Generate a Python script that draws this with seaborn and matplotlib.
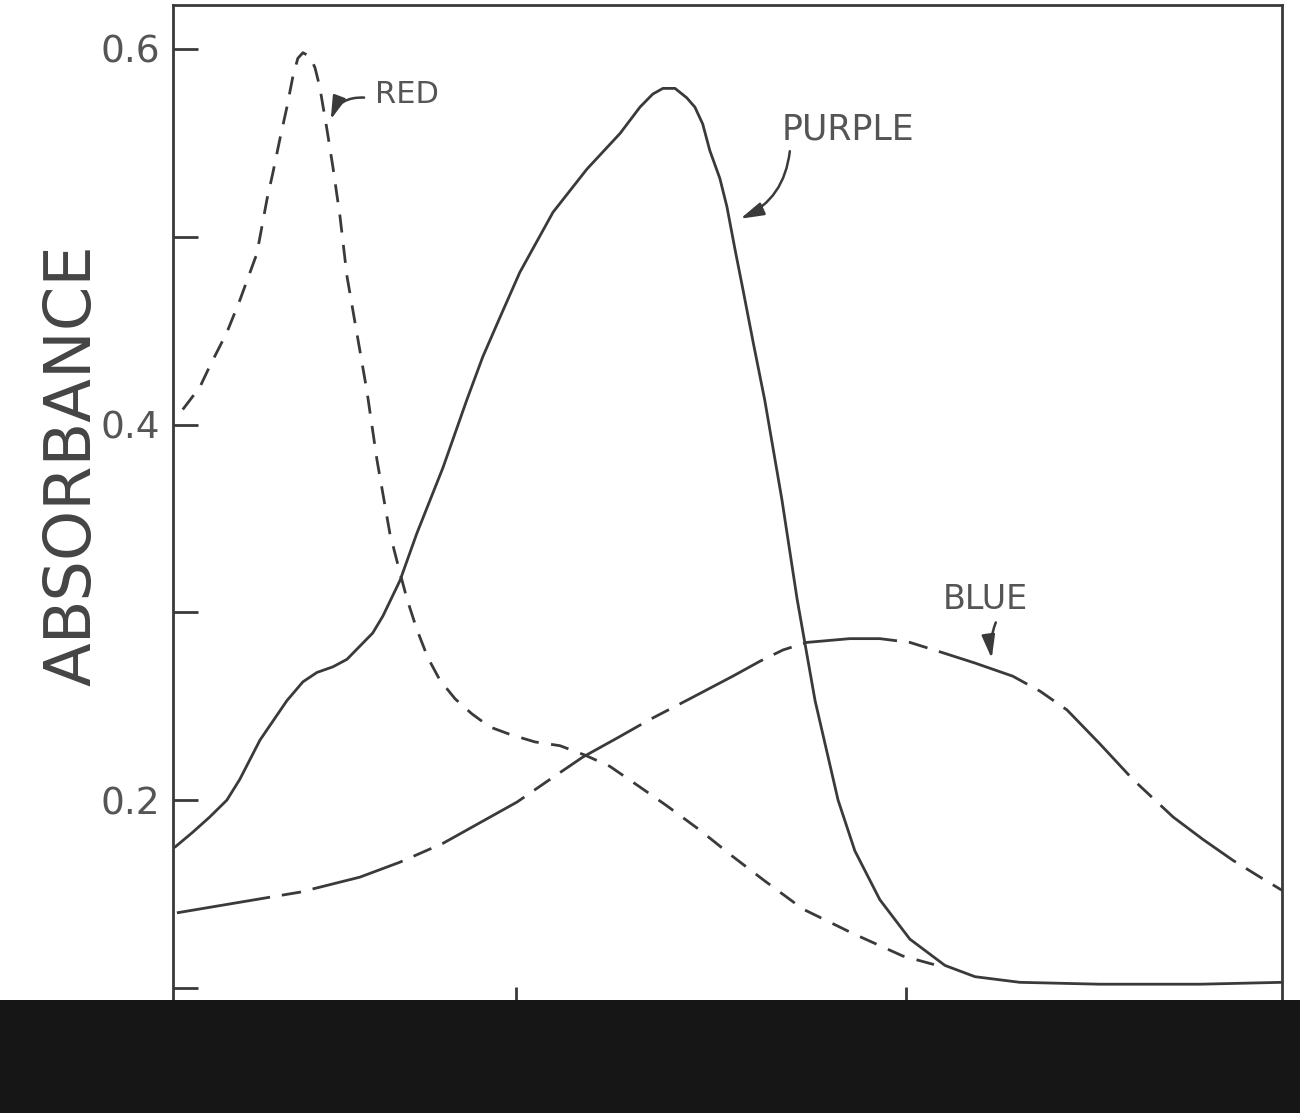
import matplotlib
matplotlib.use("Agg")
import matplotlib.pyplot as plt
import seaborn as sns
import pandas as pd
from matplotlib.patches import Rectangle

# absorbance spectra (wavelength axis unlabeled, ticks at 500/600)
red_nm = [414.6, 419.0, 421.5, 425.9, 429.2, 433.6, 436.2, 437.7, 439.5, 441.3, 442.8,
          444.1, 445.4, 447.2, 448.5, 449.7, 451.5, 453.1, 454.9, 456.7, 458.2, 461.8,
          464.4, 467.7, 470.3, 472.1, 474.6, 477.4, 480.5, 484.4, 488.7, 493.3, 498.5,
          504.9, 511.3, 517.7, 524.1, 531.8, 538.7, 547.2, 555.6, 563.8, 573.6, 586.4,
          599.2, 608.0]
red_abs = [0.408, 0.420, 0.431, 0.449, 0.466, 0.491, 0.520, 0.534, 0.552, 0.569, 0.585,
           0.595, 0.598, 0.596, 0.590, 0.580, 0.558, 0.537, 0.511, 0.479, 0.461, 0.418,
           0.381, 0.342, 0.321, 0.307, 0.291, 0.276, 0.264, 0.254, 0.246, 0.239, 0.235,
           0.231, 0.229, 0.224, 0.218, 0.207, 0.197, 0.184, 0.170, 0.157, 0.142, 0.129,
           0.117, 0.112]

purple_nm = [412.6, 417.2, 421.5, 425.9, 429.2, 434.4, 441.3, 445.4, 449.0, 453.1, 456.7,
             460.0, 463.3, 465.9, 470.3, 474.6, 481.3, 487.4, 491.5, 495.9, 501.0, 509.5,
             518.2, 526.7, 531.8, 535.1, 537.7, 540.8, 543.8, 545.9, 547.9, 549.7, 552.3,
             554.1, 556.2, 558.2, 561.0, 563.8, 568.2, 572.1, 576.7, 582.6, 586.9, 593.3,
             601.0, 610.0, 617.7, 629.2, 649.7, 675.4, 696.4]
purple_abs = [0.175, 0.183, 0.191, 0.200, 0.211, 0.232, 0.253, 0.263, 0.268, 0.271, 0.275,
              0.282, 0.289, 0.298, 0.317, 0.342, 0.377, 0.413, 0.436, 0.457, 0.481, 0.513,
              0.536, 0.555, 0.569, 0.576, 0.579, 0.579, 0.574, 0.569, 0.560, 0.546, 0.531,
              0.516, 0.493, 0.472, 0.442, 0.413, 0.360, 0.307, 0.253, 0.200, 0.173, 0.147,
              0.126, 0.112, 0.106, 0.103, 0.102, 0.102, 0.103]

blue_nm = [413.1, 427.4, 444.6, 460.0, 470.3, 481.3, 490.8, 500.3, 508.7, 517.2, 525.9,
           534.4, 544.6, 555.6, 562.6, 568.5, 574.6, 585.6, 593.3, 601.0, 608.7, 617.7,
           627.4, 634.4, 641.3, 649.7, 658.2, 668.5, 676.2, 683.8, 690.8, 696.4]
blue_abs = [0.140, 0.145, 0.151, 0.159, 0.167, 0.177, 0.188, 0.199, 0.211, 0.223, 0.233,
            0.243, 0.254, 0.266, 0.274, 0.280, 0.284, 0.286, 0.286, 0.284, 0.279, 0.273,
            0.266, 0.258, 0.248, 0.230, 0.211, 0.191, 0.179, 0.168, 0.159, 0.152]

y_ticks = [0.1, 0.2, 0.3, 0.4, 0.5, 0.6]
y_ticklabels = ["", "0.2", "", "0.4", "", "0.6"]
x_ticks = [500, 600]

df = pd.concat([
    pd.DataFrame({"nm": red_nm, "absorbance": red_abs, "pigment": "RED"}),
    pd.DataFrame({"nm": purple_nm, "absorbance": purple_abs, "pigment": "PURPLE"}),
    pd.DataFrame({"nm": blue_nm, "absorbance": blue_abs, "pigment": "BLUE"}),
], ignore_index=True)

sns.set_style("ticks")
plt.rcParams['font.family'] = ['DejaVu Sans']

ink = "#3a3a3a"
text_col = "#555555"

fig = plt.figure(figsize=(13, 11.13), dpi=100)
ax = fig.add_axes([173 / 1300, 1 - 1012 / 1113, 1109 / 1300, 1007 / 1113])

sns.lineplot(data=df, x="nm", y="absorbance", hue="pigment", style="pigment",
             palette={"RED": ink, "PURPLE": ink, "BLUE": ink},
             dashes={"RED": (6.5, 4.5), "PURPLE": "", "BLUE": (34, 4.3, 7, 4.3)},
             linewidth=2, legend=False, sort=False, ax=ax)

ax.set_xlim(412.1, 696.4)
ax.set_ylim(0.0872, 0.6234)
ax.set_xticks(x_ticks)
ax.set_xticklabels([])
ax.set_yticks(y_ticks)
ax.set_yticklabels(y_ticklabels)
ax.tick_params(direction="in", length=18, width=2, color=ink,
               labelsize=27, labelcolor=text_col, pad=9)
ax.set_xlabel("")
ax.set_ylabel("")
for s in ax.spines.values():
    s.set_linewidth(2)
    s.set_color(ink)

ax.text(-0.091, 0.543, "ABSORBANCE", transform=ax.transAxes, rotation=90,
        ha="center", va="center", fontsize=46, color="#444444")

# curve labels with hand-drawn style arrows
ax.text(472.1, 0.576, "RED", fontsize=22, color=text_col, ha="center", va="center")
ax.annotate("", xy=(452.3, 0.561), xytext=(461.8, 0.574),
            arrowprops=dict(arrowstyle="-|>,head_length=0.7,head_width=0.2", lw=1.8,
                            color=ink, connectionstyle="arc3,rad=0.4", mutation_scale=20))

ax.text(585.1, 0.557, "PURPLE", fontsize=25, color=text_col, ha="center", va="center")
ax.annotate("", xy=(556.9, 0.509), xytext=(570.3, 0.547),
            arrowprops=dict(arrowstyle="-|>,head_length=0.7,head_width=0.2", lw=1.8,
                            color=ink, connectionstyle="arc3,rad=-0.3", mutation_scale=20))

ax.text(620.3, 0.307, "BLUE", fontsize=24, color=text_col, ha="center", va="center")
ax.annotate("", xy=(622.1, 0.274), xytext=(623.3, 0.296),
            arrowprops=dict(arrowstyle="-|>,head_length=0.7,head_width=0.2", lw=1.8,
                            color=ink, connectionstyle="arc3,rad=0.15", mutation_scale=20))

# dark strip along the bottom edge of the scan
fig.add_artist(Rectangle((0, 0), 1, 113 / 1113, transform=fig.transFigure,
                         facecolor="#161616", edgecolor="none", zorder=10))

fig.savefig("out.png", dpi=100)
